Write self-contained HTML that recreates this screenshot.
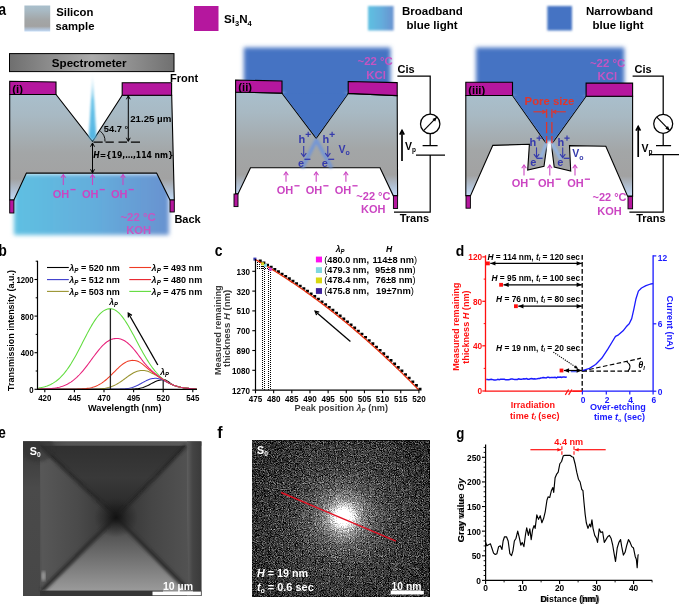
<!DOCTYPE html>
<html><head><meta charset="utf-8"><title>Figure</title>
<style>
html,body{margin:0;padding:0;background:#fff;}
svg{display:block;font-family:'Liberation Sans', sans-serif;}
</style></head><body>
<svg width="685" height="605" viewBox="0 0 685 605">
<rect width="685" height="605" fill="#fff"/>
<!-- panel_a -->
<defs>
<linearGradient id="si" x1="0" y1="0" x2="0" y2="1">
<stop offset="0" stop-color="#a9bfcc"/><stop offset="0.2" stop-color="#a8b9c3"/><stop offset="0.55" stop-color="#a3a6a7"/><stop offset="0.8" stop-color="#a2a2a2"/><stop offset="0.93" stop-color="#b4c6dc"/><stop offset="1" stop-color="#c4dcf6"/>
</linearGradient>
<linearGradient id="spec" x1="0" y1="0" x2="1" y2="0">
<stop offset="0" stop-color="#6f6f6f"/><stop offset="0.5" stop-color="#ababab"/><stop offset="1" stop-color="#707070"/>
</linearGradient>
<linearGradient id="bb" x1="0" y1="0" x2="1" y2="0">
<stop offset="0" stop-color="#5fc0e2"/><stop offset="0.5" stop-color="#64aedc"/><stop offset="1" stop-color="#6892d0"/>
</linearGradient>
<linearGradient id="beam" x1="0" y1="0" x2="0" y2="1">
<stop offset="0" stop-color="#aadcf2" stop-opacity="0.2"/><stop offset="0.4" stop-color="#6cc4e8"/><stop offset="1" stop-color="#52b4e2"/>
</linearGradient>
<filter id="bl1" x="-20%" y="-20%" width="140%" height="140%"><feGaussianBlur stdDeviation="1.2"/></filter><filter id="bl4" x="-20%" y="-20%" width="140%" height="140%"><feGaussianBlur stdDeviation="1.9"/></filter>
<filter id="bl2" x="-20%" y="-20%" width="140%" height="140%"><feGaussianBlur stdDeviation="0.8"/></filter>
<filter id="bl3" x="-50%" y="-50%" width="200%" height="200%"><feGaussianBlur stdDeviation="1.6"/></filter>
</defs>
<rect x="24.4" y="5.5" width="25.8" height="26" fill="url(#si)"/>
<text x="56.3" y="15.6" font-size="11.3" text-anchor="start" fill="#000" font-weight="bold" font-style="normal" >Silicon</text>
<text x="55.5" y="29.6" font-size="11.3" text-anchor="start" fill="#000" font-weight="bold" font-style="normal" >sample</text>
<rect x="194" y="6" width="24.5" height="25" fill="#b5179e"/>
<text x="224" y="23.2" font-size="11.6" text-anchor="start" fill="#000" font-weight="bold" font-style="normal" >Si<tspan font-size="7.5" dy="2.5">3</tspan><tspan dy="-2.5" font-size="1">&#8203;</tspan>N<tspan font-size="7.5" dy="2.5">4</tspan><tspan dy="-2.5" font-size="1">&#8203;</tspan></text>
<rect x="368" y="6" width="25.6" height="24.5" fill="url(#bb)" filter="url(#bl2)"/>
<text x="432.4" y="15" font-size="11.5" text-anchor="middle" fill="#000" font-weight="bold" font-style="normal" >Broadband</text>
<text x="432" y="28.8" font-size="11.5" text-anchor="middle" fill="#000" font-weight="bold" font-style="normal" >blue light</text>
<rect x="547.3" y="6" width="24.7" height="24.5" fill="#4573c3" filter="url(#bl2)"/>
<text x="619.5" y="14.8" font-size="11.5" text-anchor="middle" fill="#000" font-weight="bold" font-style="normal" >Narrowband</text>
<text x="618" y="29.4" font-size="11.5" text-anchor="middle" fill="#000" font-weight="bold" font-style="normal" >blue light</text>
<text transform="translate(-1.60 15.00) scale(0.850 1)" font-size="16" text-anchor="start" fill="#000" font-weight="bold" font-style="normal" >a</text>
<path d="M14,174 L169,174 L169,235 L14,235 Z" fill="url(#bb)" filter="url(#bl4)"/>
<path d="M9.7,94.5 L56,94.5 L92.5,141.3 L122.2,95.3 L171.7,95.3 L174.3,200 L170,200 L156.6,173.1 L26.4,173.1 L13.9,200 L9.7,200 Z" fill="url(#si)" stroke="#000" stroke-width="1.1" stroke-linejoin="miter"/>
<path d="M92.6,73 L96.4,137 L92.5,141.3 L88.8,137 Z" fill="url(#beam)" filter="url(#bl2)"/>
<path d="M9.7,81.3 L56,82 L56,94.5 L9.7,94.5 Z" fill="#b5179e" stroke="#000" stroke-width="1.1"/>
<path d="M122.2,82.8 L171.6,82.8 L171.6,95.3 L122.2,95.3 Z" fill="#b5179e" stroke="#000" stroke-width="1.1"/>
<rect x="9.7" y="200" width="4.2" height="13" fill="#b5179e" stroke="#000" stroke-width="0.9"/>
<rect x="170" y="200" width="4.3" height="12" fill="#b5179e" stroke="#000" stroke-width="0.9"/>
<text x="12.3" y="92.8" font-size="11.3" text-anchor="start" fill="#000" font-weight="bold" font-style="normal" >(i)</text>
<rect x="9.5" y="53.6" width="164.5" height="18" fill="url(#spec)" stroke="#000" stroke-width="1"/>
<text x="89.2" y="66.6" font-size="11.6" text-anchor="middle" fill="#000" font-weight="bold" font-style="normal" >Spectrometer</text>
<text x="170" y="82" font-size="11" text-anchor="start" fill="#000" font-weight="bold" font-style="normal" >Front</text>
<text x="174.4" y="222.8" font-size="11" text-anchor="start" fill="#000" font-weight="bold" font-style="normal" >Back</text>
<line x1="128.3" y1="141.3" x2="128.3" y2="95.8" stroke="#000" stroke-width="1" /><polyline points="130.22,99.31 128.30,95.80 126.38,99.31" fill="none" stroke="#000" stroke-width="1"/><polyline points="126.38,137.79 128.30,141.30 130.22,137.79" fill="none" stroke="#000" stroke-width="1"/>
<text x="130.2" y="121.8" font-size="9.7" text-anchor="start" fill="#000" font-weight="bold" font-style="normal" >21.25 µm</text>
<text x="103.8" y="132" font-size="9.3" text-anchor="start" fill="#000" font-weight="bold" font-style="normal" >54.7 °</text>
<path d="M93.5,142.1 L102.7,142.1 M105.5,142.1 L113.8,142.1 M118.5,142.1 L127,142.1 M130.9,142.1 L140,142.1" stroke="#000" stroke-width="1.3" fill="none"/>
<path d="M100.3,131.2 A12.5,12.5 0 0 1 105,141.5" stroke="#000" stroke-width="0.9" fill="none"/>
<line x1="92.5" y1="143" x2="92.5" y2="172.9" stroke="#000" stroke-width="1" /><polyline points="90.49,169.21 92.50,172.90 94.51,169.21" fill="none" stroke="#000" stroke-width="1"/><polyline points="94.51,146.69 92.50,143.00 90.49,146.69" fill="none" stroke="#000" stroke-width="1"/>
<text x="93.2" y="158.3" font-size="8.6" text-anchor="start" fill="#000" font-weight="bold" font-style="normal" font-family="DejaVu Sans, sans-serif" textLength="80.4" lengthAdjust="spacingAndGlyphs"><tspan font-style="italic">H</tspan>={19,…,114 nm}</text>
<line x1="63.3" y1="185" x2="63.3" y2="174.6" stroke="#cb45c2" stroke-width="1.1" /><polyline points="61.0,177.79999999999998 63.3,174.6 65.6,177.79999999999998" fill="none" stroke="#cb45c2" stroke-width="1.1"/>
<line x1="92.5" y1="185" x2="92.5" y2="174.6" stroke="#cb45c2" stroke-width="1.1" /><polyline points="90.2,177.79999999999998 92.5,174.6 94.8,177.79999999999998" fill="none" stroke="#cb45c2" stroke-width="1.1"/>
<line x1="123" y1="185" x2="123" y2="174.6" stroke="#cb45c2" stroke-width="1.1" /><polyline points="120.7,177.79999999999998 123,174.6 125.3,177.79999999999998" fill="none" stroke="#cb45c2" stroke-width="1.1"/>
<text x="52.8" y="197.8" font-size="11" text-anchor="start" fill="#cb45c2" font-weight="bold" font-style="normal" >OH</text><path d="M70.4,189.60000000000002 h5.2" stroke="#cb45c2" stroke-width="1.4" fill="none"/>
<text x="82" y="197.8" font-size="11" text-anchor="start" fill="#cb45c2" font-weight="bold" font-style="normal" >OH</text><path d="M99.6,189.60000000000002 h5.2" stroke="#cb45c2" stroke-width="1.4" fill="none"/>
<text x="111" y="197.8" font-size="11" text-anchor="start" fill="#cb45c2" font-weight="bold" font-style="normal" >OH</text><path d="M128.6,189.60000000000002 h5.2" stroke="#cb45c2" stroke-width="1.4" fill="none"/>
<text x="138.1" y="220.7" font-size="11.4" text-anchor="middle" fill="#c656c1" font-weight="bold" font-style="normal" >~22 °C</text>
<text x="138.6" y="234.3" font-size="11.2" text-anchor="middle" fill="#c656c1" font-weight="bold" font-style="normal" >KOH</text>
<path d="M243.8,47.5 L390.6,47.5 L390.6,95 L348,93.5 L316.2,138 L282,93 L243.8,93 Z" fill="#4573c3" filter="url(#bl4)"/>
<path d="M235.6,92 L282,93.1 L316.2,138.3 L348.2,93.4 L397.2,95.6 L397.6,195.6 L393.2,195.6 L380,167.7 L250.5,167.7 L238.1,193.8 L235.6,193.8 Z" fill="url(#si)" stroke="#000" stroke-width="1.1"/>
<path d="M282.5,93.3 L316.2,137.6 L347.9,93.6 Z" fill="#4573c3"/>
<path d="M316.3,140 L303,166.5 M316.3,140 L330.8,166.5" stroke="#6f94da" stroke-width="3.8" fill="none" filter="url(#bl1)" stroke-linecap="round" opacity="0.85"/>
<path d="M235.6,80 L282,81 L282,93.1 L235.6,92 Z" fill="#b5179e" stroke="#000" stroke-width="1.1"/>
<path d="M348.2,81.5 L397.2,82.6 L397.2,95.6 L348.2,93.4 Z" fill="#b5179e" stroke="#000" stroke-width="1.1"/>
<rect x="234" y="194" width="4" height="12.6" fill="#b5179e" stroke="#000" stroke-width="0.9"/>
<rect x="393.4" y="195.8" width="4.2" height="12.7" fill="#b5179e" stroke="#000" stroke-width="0.9"/>
<text x="238.3" y="91.2" font-size="11.3" text-anchor="start" fill="#000" font-weight="bold" font-style="normal" >(ii)</text>
<text x="298.6" y="142.6" font-size="11" text-anchor="start" fill="#353aac" font-weight="bold" font-style="normal" >h</text><path d="M305.6,134.4 h5.2 M308.20000000000005,131.79999999999998 v5.2" stroke="#353aac" stroke-width="1.2" fill="none"/><line x1="303.7" y1="145.9" x2="303.7" y2="156.5" stroke="#353aac" stroke-width="1.1" /><polyline points="301.09999999999997,153.1 303.7,156.5 306.3,153.1" fill="none" stroke="#353aac" stroke-width="1.1"/><text x="298" y="167.3" font-size="11" text-anchor="start" fill="#353aac" font-weight="bold" font-style="normal" >e</text><path d="M304.4,159.3 h6" stroke="#353aac" stroke-width="1.3" fill="none"/>
<text x="322.5" y="142.6" font-size="11" text-anchor="start" fill="#353aac" font-weight="bold" font-style="normal" >h</text><path d="M329.5,134.4 h5.2 M332.1,131.79999999999998 v5.2" stroke="#353aac" stroke-width="1.2" fill="none"/><line x1="327.8" y1="145.9" x2="327.8" y2="156.5" stroke="#353aac" stroke-width="1.1" /><polyline points="325.2,153.1 327.8,156.5 330.40000000000003,153.1" fill="none" stroke="#353aac" stroke-width="1.1"/><text x="321.8" y="167.3" font-size="11" text-anchor="start" fill="#353aac" font-weight="bold" font-style="normal" >e</text><path d="M328.2,159.3 h6" stroke="#353aac" stroke-width="1.3" fill="none"/>
<text x="338.6" y="152.5" font-size="10.5" text-anchor="start" fill="#353aac" font-weight="bold" font-style="normal" >V<tspan font-size="7" dy="2.5">o</tspan><tspan dy="-2.5" font-size="1">&#8203;</tspan></text>
<line x1="286" y1="181.7" x2="286" y2="172" stroke="#cb45c2" stroke-width="1.1" /><polyline points="283.7,175.2 286,172 288.3,175.2" fill="none" stroke="#cb45c2" stroke-width="1.1"/>
<line x1="316.2" y1="181.7" x2="316.2" y2="172" stroke="#cb45c2" stroke-width="1.1" /><polyline points="313.9,175.2 316.2,172 318.5,175.2" fill="none" stroke="#cb45c2" stroke-width="1.1"/>
<line x1="345.9" y1="181.7" x2="345.9" y2="172" stroke="#cb45c2" stroke-width="1.1" /><polyline points="343.59999999999997,175.2 345.9,172 348.2,175.2" fill="none" stroke="#cb45c2" stroke-width="1.1"/>
<text x="276.8" y="194" font-size="11" text-anchor="start" fill="#cb45c2" font-weight="bold" font-style="normal" >OH</text><path d="M294.40000000000003,185.8 h5.2" stroke="#cb45c2" stroke-width="1.4" fill="none"/>
<text x="305.7" y="194" font-size="11" text-anchor="start" fill="#cb45c2" font-weight="bold" font-style="normal" >OH</text><path d="M323.3,185.8 h5.2" stroke="#cb45c2" stroke-width="1.4" fill="none"/>
<text x="334.8" y="194" font-size="11" text-anchor="start" fill="#cb45c2" font-weight="bold" font-style="normal" >OH</text><path d="M352.40000000000003,185.8 h5.2" stroke="#cb45c2" stroke-width="1.4" fill="none"/>
<text x="373.4" y="200" font-size="11" text-anchor="middle" fill="#cb45c2" font-weight="bold" font-style="normal" >~22 °C</text>
<text x="373.2" y="213.2" font-size="11" text-anchor="middle" fill="#cb45c2" font-weight="bold" font-style="normal" >KOH</text>
<text x="375.2" y="64.5" font-size="11.4" text-anchor="middle" fill="#c455c2" font-weight="bold" font-style="normal" >~22 °C</text>
<text x="376.1" y="78.5" font-size="11.4" text-anchor="middle" fill="#c455c2" font-weight="bold" font-style="normal" >KCl</text>
<text x="397.6" y="72.7" font-size="11" text-anchor="start" fill="#000" font-weight="bold" font-style="normal" >Cis</text>
<path d="M397.4,76 L430.2,76 L430.2,114.2 M430.2,133.6 L430.2,145.6 M422.6,145.6 L437.6,145.6 M416,155 L445,155 M430.2,155 L430.2,212 L394,212" stroke="#000" stroke-width="1.25" fill="none"/>
<circle cx="430.2" cy="123.9" r="9.7" fill="#fff" stroke="#000" stroke-width="1.25"/>
<line x1="423.6" y1="130.6" x2="436.8" y2="117.2" stroke="#000" stroke-width="1.2" /><polygon points="436.80,117.20 435.19,121.51 432.52,118.88" fill="#000"/>
<line x1="402" y1="161" x2="402" y2="130.5" stroke="#000" stroke-width="1.7" /><polyline points="404.21,134.54 402.00,130.50 399.79,134.54" fill="none" stroke="#000" stroke-width="1.7"/>
<text x="405" y="150" font-size="10.5" text-anchor="start" fill="#000" font-weight="bold" font-style="normal" >V<tspan font-size="6.5" dy="2">p</tspan><tspan dy="-2" font-size="1">&#8203;</tspan></text>
<text x="399.7" y="221.7" font-size="11" text-anchor="start" fill="#000" font-weight="bold" font-style="normal" >Trans</text>
<path d="M476,47.6 L624.3,47.6 L624.3,97 L586,97 L551,140 L547.5,140 L512.5,96 L476,96 Z" fill="#4573c3" filter="url(#bl4)"/>
<path d="M465.8,95.5 L512.5,95.5 L547,144.4 L544,166.4 L527.7,170.1 L529.4,144.2 L492.8,145.4 L470.5,195.6 L465.8,195.6 Z" fill="url(#si)" stroke="#000" stroke-width="1.1"/>
<path d="M632.6,96.3 L586.1,96.3 L551.4,144.4 L554.2,167 L570.7,171 L569.5,145.6 L605.8,146.2 L627.6,196.1 L632.6,196.1 Z" fill="url(#si)" stroke="#000" stroke-width="1.1"/>
<path d="M513,95.8 L547.4,144 L551,144 L585.7,96.3 Z" fill="#4573c3"/>
<path d="M546.5,143 L540.7,158 M552,143 L560.5,158.5" stroke="#8fb4e8" stroke-width="3" fill="none" filter="url(#bl1)" stroke-linecap="round"/><path d="M547.6,141 L551,141 L551.6,149 L547,149 Z" fill="#fff" filter="url(#bl1)"/>
<path d="M465.8,82.3 L512.5,82.3 L512.5,95.5 L465.8,95.5 Z" fill="#b5179e" stroke="#000" stroke-width="1.1"/>
<path d="M586.1,83.1 L632.6,83.1 L632.6,96.3 L586.1,96.3 Z" fill="#b5179e" stroke="#000" stroke-width="1.1"/>
<rect x="466" y="195.8" width="4.4" height="12.4" fill="#b5179e" stroke="#000" stroke-width="0.9"/>
<rect x="628" y="196.6" width="4.6" height="12.2" fill="#b5179e" stroke="#000" stroke-width="0.9"/>
<text x="468.3" y="93.7" font-size="11.3" text-anchor="start" fill="#000" font-weight="bold" font-style="normal" >(iii)</text>
<text x="549.5" y="104.9" font-size="11" text-anchor="middle" fill="#e0352b" font-weight="bold" font-style="normal" textLength="49.8" lengthAdjust="spacingAndGlyphs">Pore size</text>
<path d="M546.6,109.3 V117.7 M546.6,122 V133.3 M546.6,136 V143.2 M551.9,109.3 V117.7 M551.9,122 V133.3 M551.9,136 V143.2" stroke="#e0352b" stroke-width="1.3" fill="none"/>
<line x1="533.4" y1="111.8" x2="545.3" y2="111.8" stroke="#e0352b" stroke-width="1.1" /><polyline points="542.32,113.43 545.30,111.80 542.32,110.17" fill="none" stroke="#e0352b" stroke-width="1.1"/>
<line x1="565.8" y1="111.8" x2="553.2" y2="111.8" stroke="#e0352b" stroke-width="1.1" /><polyline points="556.18,110.17 553.20,111.80 556.18,113.43" fill="none" stroke="#e0352b" stroke-width="1.1"/>
<text x="529.6" y="146.4" font-size="11" text-anchor="start" fill="#353aac" font-weight="bold" font-style="normal" >h</text><path d="M536.6,138.20000000000002 h5.2 M539.2,135.6 v5.2" stroke="#353aac" stroke-width="1.2" fill="none"/><line x1="536.5" y1="147.4" x2="536.5" y2="157.6" stroke="#353aac" stroke-width="1.1" /><polyline points="533.9,154.2 536.5,157.6 539.1,154.2" fill="none" stroke="#353aac" stroke-width="1.1"/><text x="530.2" y="166.3" font-size="11" text-anchor="start" fill="#353aac" font-weight="bold" font-style="normal" >e</text><path d="M536.6,158.3 h6" stroke="#353aac" stroke-width="1.3" fill="none"/>
<text x="557.4" y="146.4" font-size="11" text-anchor="start" fill="#353aac" font-weight="bold" font-style="normal" >h</text><path d="M564.4,138.20000000000002 h5.2 M567.0,135.6 v5.2" stroke="#353aac" stroke-width="1.2" fill="none"/><line x1="562.7" y1="147.4" x2="562.7" y2="157.6" stroke="#353aac" stroke-width="1.1" /><polyline points="560.1,154.2 562.7,157.6 565.3000000000001,154.2" fill="none" stroke="#353aac" stroke-width="1.1"/><text x="557.3" y="166.3" font-size="11" text-anchor="start" fill="#353aac" font-weight="bold" font-style="normal" >e</text><path d="M563.6999999999999,158.3 h6" stroke="#353aac" stroke-width="1.3" fill="none"/>
<text x="572.3" y="157.4" font-size="10.5" text-anchor="start" fill="#353aac" font-weight="bold" font-style="normal" >V<tspan font-size="7" dy="2.5">o</tspan><tspan dy="-2.5" font-size="1">&#8203;</tspan></text>
<line x1="524" y1="175.5" x2="524" y2="165" stroke="#cb45c2" stroke-width="1.1" /><polyline points="521.7,168.2 524,165 526.3,168.2" fill="none" stroke="#cb45c2" stroke-width="1.1"/>
<line x1="549.8" y1="175.5" x2="549.8" y2="165" stroke="#cb45c2" stroke-width="1.1" /><polyline points="547.5,168.2 549.8,165 552.0999999999999,168.2" fill="none" stroke="#cb45c2" stroke-width="1.1"/>
<line x1="575" y1="175.5" x2="575" y2="165" stroke="#cb45c2" stroke-width="1.1" /><polyline points="572.7,168.2 575,165 577.3,168.2" fill="none" stroke="#cb45c2" stroke-width="1.1"/>
<text x="511.8" y="187.4" font-size="11" text-anchor="start" fill="#cb45c2" font-weight="bold" font-style="normal" >OH</text><path d="M529.4,179.20000000000002 h5.2" stroke="#cb45c2" stroke-width="1.4" fill="none"/>
<text x="538" y="187.4" font-size="11" text-anchor="start" fill="#cb45c2" font-weight="bold" font-style="normal" >OH</text><path d="M555.6,179.20000000000002 h5.2" stroke="#cb45c2" stroke-width="1.4" fill="none"/>
<text x="567.2" y="187.4" font-size="11" text-anchor="start" fill="#cb45c2" font-weight="bold" font-style="normal" >OH</text><path d="M584.8000000000001,179.20000000000002 h5.2" stroke="#cb45c2" stroke-width="1.4" fill="none"/>
<text x="609.5" y="201.4" font-size="11" text-anchor="middle" fill="#cb45c2" font-weight="bold" font-style="normal" >~22 °C</text>
<text x="609.5" y="215" font-size="11" text-anchor="middle" fill="#cb45c2" font-weight="bold" font-style="normal" >KOH</text>
<text x="607.6" y="66.6" font-size="11.4" text-anchor="middle" fill="#c455c2" font-weight="bold" font-style="normal" >~22 °C</text>
<text x="607.3" y="79.5" font-size="11.4" text-anchor="middle" fill="#c455c2" font-weight="bold" font-style="normal" >KCl</text>
<text x="634.6" y="72.6" font-size="11" text-anchor="start" fill="#000" font-weight="bold" font-style="normal" >Cis</text>
<path d="M632.6,76.2 L663.2,76.2 L663.2,114.3 M663.2,133.3 L663.2,145.6 M656,145.6 L671.1,145.6 M649.3,154.7 L679,154.7 M663.2,154.7 L663.2,212.2 L629.4,212.2" stroke="#000" stroke-width="1.25" fill="none"/>
<circle cx="663.2" cy="123.8" r="9.5" fill="#fff" stroke="#000" stroke-width="1.25"/>
<line x1="656.8" y1="117.2" x2="669.6" y2="130.4" stroke="#000" stroke-width="1.2" /><polygon points="669.60,130.40 665.33,128.69 668.02,126.08" fill="#000"/>
<line x1="638.2" y1="157" x2="638.2" y2="126.5" stroke="#000" stroke-width="1.7" /><polyline points="640.41,130.54 638.20,126.50 635.99,130.54" fill="none" stroke="#000" stroke-width="1.7"/>
<text x="641.4" y="152" font-size="10.5" text-anchor="start" fill="#000" font-weight="bold" font-style="normal" >V<tspan font-size="6.5" dy="2">p</tspan><tspan dy="-2" font-size="1">&#8203;</tspan></text>
<text x="636.2" y="222" font-size="11" text-anchor="start" fill="#000" font-weight="bold" font-style="normal" >Trans</text>
<!-- panel_b -->
<text transform="translate(-1.60 256.00) scale(0.850 1)" font-size="16" text-anchor="start" fill="#000" font-weight="bold" font-style="normal" >b</text>
<polyline points="37.70,389.30 38.88,389.30 40.06,389.30 41.25,389.30 42.43,389.30 43.62,389.30 44.80,389.30 45.98,389.30 47.17,389.30 48.35,389.30 49.54,389.30 50.72,389.30 51.90,389.30 53.09,389.30 54.27,389.30 55.46,389.30 56.64,389.30 57.82,389.30 59.01,389.30 60.19,389.30 61.38,389.30 62.56,389.30 63.74,389.30 64.93,389.30 66.11,389.30 67.30,389.30 68.48,389.30 69.66,389.30 70.85,389.30 72.03,389.30 73.22,389.30 74.40,389.30 75.58,389.30 76.77,389.30 77.95,389.30 79.14,389.30 80.32,389.30 81.50,389.30 82.69,389.30 83.87,389.30 85.06,389.30 86.24,389.30 87.42,389.30 88.61,389.30 89.79,389.30 90.98,389.30 92.16,389.30 93.34,389.30 94.53,389.30 95.71,389.30 96.90,389.30 98.08,389.30 99.26,389.30 100.45,389.30 101.63,389.30 102.82,389.30 104.00,389.30 105.18,389.30 106.37,389.30 107.55,389.30 108.74,389.30 109.92,389.30 111.10,389.30 112.29,389.30 113.47,389.30 114.66,389.30 115.84,389.30 117.02,389.30 118.21,389.30 119.39,389.30 120.58,389.30 121.76,389.30 122.94,389.29 124.13,389.29 125.31,389.28 126.50,389.28 127.68,389.26 128.86,389.24 130.05,389.22 131.23,389.19 132.42,389.14 133.60,389.07 134.78,388.99 135.97,388.88 137.15,388.75 138.34,388.57 139.52,388.36 140.70,388.11 141.89,387.80 143.07,387.44 144.26,387.03 145.44,386.57 146.62,386.06 147.81,385.50 148.99,384.91 150.18,384.29 151.36,383.65 152.54,383.02 153.73,382.41 154.91,381.83 156.10,381.30 157.28,380.84 158.46,380.45 159.65,380.15 160.83,379.94 162.02,379.82 163.20,379.78 164.38,379.84 165.57,380.09 166.75,380.61 167.94,381.35 169.12,382.24 170.30,383.16 171.49,384.02 172.67,384.73 173.86,385.27 175.04,385.70 176.22,386.09 177.41,386.45 178.59,386.77 179.78,387.06 180.96,387.32 182.14,387.55 183.33,387.76 184.51,387.95 185.70,388.11 186.88,388.26 188.06,388.39 189.25,388.51 190.43,388.61 191.62,388.70 192.80,388.78 193.98,388.85 195.17,388.92 196.35,388.97" fill="none" stroke="#000000" stroke-width="1.05"/>
<polyline points="37.70,389.30 38.88,389.30 40.06,389.30 41.25,389.30 42.43,389.30 43.62,389.30 44.80,389.30 45.98,389.30 47.17,389.30 48.35,389.30 49.54,389.30 50.72,389.30 51.90,389.30 53.09,389.30 54.27,389.30 55.46,389.30 56.64,389.30 57.82,389.30 59.01,389.30 60.19,389.30 61.38,389.30 62.56,389.30 63.74,389.30 64.93,389.30 66.11,389.30 67.30,389.30 68.48,389.30 69.66,389.30 70.85,389.30 72.03,389.30 73.22,389.30 74.40,389.30 75.58,389.30 76.77,389.30 77.95,389.30 79.14,389.30 80.32,389.30 81.50,389.30 82.69,389.30 83.87,389.30 85.06,389.30 86.24,389.30 87.42,389.30 88.61,389.30 89.79,389.30 90.98,389.30 92.16,389.30 93.34,389.30 94.53,389.30 95.71,389.30 96.90,389.30 98.08,389.30 99.26,389.30 100.45,389.30 101.63,389.30 102.82,389.30 104.00,389.30 105.18,389.30 106.37,389.30 107.55,389.30 108.74,389.30 109.92,389.29 111.10,389.29 112.29,389.29 113.47,389.28 114.66,389.27 115.84,389.26 117.02,389.24 118.21,389.22 119.39,389.19 120.58,389.14 121.76,389.09 122.94,389.02 124.13,388.92 125.31,388.81 126.50,388.67 127.68,388.49 128.86,388.28 130.05,388.03 131.23,387.73 132.42,387.38 133.60,386.99 134.78,386.55 135.97,386.06 137.15,385.52 138.34,384.94 139.52,384.33 140.70,383.69 141.89,383.03 143.07,382.38 144.26,381.73 145.44,381.11 146.62,380.52 147.81,379.99 148.99,379.51 150.18,379.11 151.36,378.79 152.54,378.55 153.73,378.40 154.91,378.33 156.10,378.33 157.28,378.43 158.46,378.64 159.65,378.91 160.83,379.25 162.02,379.68 163.20,380.22 164.38,380.83 165.57,381.48 166.75,382.12 167.94,382.73 169.12,383.29 170.30,383.82 171.49,384.31 172.67,384.80 173.86,385.27 175.04,385.70 176.22,386.09 177.41,386.45 178.59,386.77 179.78,387.06 180.96,387.32 182.14,387.55 183.33,387.76 184.51,387.95 185.70,388.11 186.88,388.26 188.06,388.39 189.25,388.51 190.43,388.61 191.62,388.70 192.80,388.78 193.98,388.85 195.17,388.92 196.35,388.97" fill="none" stroke="#3a3acc" stroke-width="1.05"/>
<polyline points="37.70,389.30 38.88,389.30 40.06,389.30 41.25,389.30 42.43,389.30 43.62,389.30 44.80,389.30 45.98,389.30 47.17,389.30 48.35,389.30 49.54,389.30 50.72,389.30 51.90,389.30 53.09,389.30 54.27,389.30 55.46,389.30 56.64,389.30 57.82,389.30 59.01,389.30 60.19,389.30 61.38,389.30 62.56,389.30 63.74,389.30 64.93,389.30 66.11,389.30 67.30,389.30 68.48,389.30 69.66,389.30 70.85,389.30 72.03,389.30 73.22,389.30 74.40,389.30 75.58,389.30 76.77,389.30 77.95,389.30 79.14,389.30 80.32,389.30 81.50,389.30 82.69,389.29 83.87,389.29 85.06,389.29 86.24,389.28 87.42,389.28 88.61,389.27 89.79,389.26 90.98,389.24 92.16,389.22 93.34,389.20 94.53,389.16 95.71,389.12 96.90,389.07 98.08,389.01 99.26,388.94 100.45,388.84 101.63,388.73 102.82,388.59 104.00,388.43 105.18,388.24 106.37,388.02 107.55,387.75 108.74,387.45 109.92,387.11 111.10,386.72 112.29,386.28 113.47,385.79 114.66,385.25 115.84,384.65 117.02,384.01 118.21,383.31 119.39,382.58 120.58,381.80 121.76,380.98 122.94,380.14 124.13,379.27 125.31,378.39 126.50,377.52 127.68,376.65 128.86,375.80 130.05,374.98 131.23,374.21 132.42,373.48 133.60,372.82 134.78,372.23 135.97,371.72 137.15,371.29 138.34,370.95 139.52,370.70 140.70,370.54 141.89,370.46 143.07,370.46 144.26,370.53 145.44,370.70 146.62,370.97 147.81,371.35 148.99,371.82 150.18,372.40 151.36,372.97 152.54,373.51 153.73,374.06 154.91,374.66 156.10,375.31 157.28,376.00 158.46,376.72 159.65,377.46 160.83,378.20 162.02,378.94 163.20,379.66 164.38,380.36 165.57,381.06 166.75,381.75 167.94,382.44 169.12,383.10 170.30,383.72 171.49,384.28 172.67,384.80 173.86,385.27 175.04,385.70 176.22,386.09 177.41,386.45 178.59,386.77 179.78,387.06 180.96,387.32 182.14,387.55 183.33,387.76 184.51,387.95 185.70,388.11 186.88,388.26 188.06,388.39 189.25,388.51 190.43,388.61 191.62,388.70 192.80,388.78 193.98,388.85 195.17,388.92 196.35,388.97" fill="none" stroke="#99932f" stroke-width="1.05"/>
<polyline points="37.70,389.30 38.88,389.30 40.06,389.30 41.25,389.30 42.43,389.30 43.62,389.30 44.80,389.30 45.98,389.30 47.17,389.30 48.35,389.30 49.54,389.30 50.72,389.30 51.90,389.30 53.09,389.30 54.27,389.30 55.46,389.30 56.64,389.30 57.82,389.30 59.01,389.30 60.19,389.30 61.38,389.30 62.56,389.30 63.74,389.29 64.93,389.29 66.11,389.29 67.30,389.28 68.48,389.28 69.66,389.27 70.85,389.26 72.03,389.25 73.22,389.24 74.40,389.22 75.58,389.20 76.77,389.17 77.95,389.13 79.14,389.09 80.32,389.04 81.50,388.97 82.69,388.89 83.87,388.79 85.06,388.68 86.24,388.54 87.42,388.37 88.61,388.18 89.79,387.95 90.98,387.69 92.16,387.39 93.34,387.04 94.53,386.65 95.71,386.20 96.90,385.70 98.08,385.15 99.26,384.53 100.45,383.85 101.63,383.11 102.82,382.30 104.00,381.43 105.18,380.50 106.37,379.52 107.55,378.48 108.74,377.39 109.92,376.27 111.10,375.11 112.29,373.92 113.47,372.72 114.66,371.52 115.84,370.33 117.02,369.16 118.21,368.01 119.39,366.92 120.58,365.88 121.76,364.90 122.94,364.00 124.13,363.19 125.31,362.48 126.50,361.86 127.68,361.35 128.86,360.95 130.05,360.66 131.23,360.48 132.42,360.39 133.60,360.40 134.78,360.50 135.97,360.71 137.15,361.06 138.34,361.53 139.52,362.13 140.70,362.85 141.89,363.69 143.07,364.63 144.26,365.66 145.44,366.70 146.62,367.68 147.81,368.64 148.99,369.58 150.18,370.52 151.36,371.44 152.54,372.35 153.73,373.24 154.91,374.10 156.10,374.94 157.28,375.75 158.46,376.53 159.65,377.29 160.83,378.03 162.02,378.77 163.20,379.50 164.38,380.23 165.57,380.97 166.75,381.71 167.94,382.44 169.12,383.10 170.30,383.72 171.49,384.28 172.67,384.80 173.86,385.27 175.04,385.70 176.22,386.09 177.41,386.45 178.59,386.77 179.78,387.06 180.96,387.32 182.14,387.55 183.33,387.76 184.51,387.95 185.70,388.11 186.88,388.26 188.06,388.39 189.25,388.51 190.43,388.61 191.62,388.70 192.80,388.78 193.98,388.85 195.17,388.92 196.35,388.97" fill="none" stroke="#ee3b24" stroke-width="1.05"/>
<polyline points="37.70,388.19 38.88,388.02 40.06,387.81 41.25,387.59 42.43,387.33 43.62,387.04 44.80,386.71 45.98,386.35 47.17,385.94 48.35,385.48 49.54,384.98 50.72,384.43 51.90,383.81 53.09,383.14 54.27,382.41 55.46,381.60 56.64,380.73 57.82,379.78 59.01,378.76 60.19,377.66 61.38,376.48 62.56,375.21 63.74,373.86 64.93,372.43 66.11,370.91 67.30,369.31 68.48,367.62 69.66,365.85 70.85,364.01 72.03,362.08 73.22,360.09 74.40,358.03 75.58,355.91 76.77,353.73 77.95,351.51 79.14,349.25 80.32,346.96 81.50,344.65 82.69,342.32 83.87,340.00 85.06,337.68 86.24,335.39 87.42,333.13 88.61,330.91 89.79,328.75 90.98,326.65 92.16,324.63 93.34,322.69 94.53,320.86 95.71,319.13 96.90,317.51 98.08,316.02 99.26,314.66 100.45,313.43 101.63,312.35 102.82,311.41 104.00,310.61 105.18,309.97 106.37,309.46 107.55,309.10 108.74,308.88 109.92,308.79 111.10,308.81 112.29,308.99 113.47,309.35 114.66,309.86 115.84,310.54 117.02,311.37 118.21,312.35 119.39,313.49 120.58,314.76 121.76,316.16 122.94,317.68 124.13,319.32 125.31,321.06 126.50,322.90 127.68,324.82 128.86,326.82 130.05,328.89 131.23,331.00 132.42,333.16 133.60,335.35 134.78,337.57 135.97,339.79 137.15,342.02 138.34,344.25 139.52,346.45 140.70,348.64 141.89,350.79 143.07,352.91 144.26,354.98 145.44,357.00 146.62,358.96 147.81,360.87 148.99,362.71 150.18,364.48 151.36,366.19 152.54,367.82 153.73,369.37 154.91,370.86 156.10,372.27 157.28,373.60 158.46,374.86 159.65,376.05 160.83,377.16 162.02,378.20 163.20,379.18 164.38,380.09 165.57,380.93 166.75,381.71 167.94,382.44 169.12,383.10 170.30,383.72 171.49,384.28 172.67,384.80 173.86,385.27 175.04,385.70 176.22,386.09 177.41,386.45 178.59,386.77 179.78,387.06 180.96,387.32 182.14,387.55 183.33,387.76 184.51,387.95 185.70,388.11 186.88,388.26 188.06,388.39 189.25,388.51 190.43,388.61 191.62,388.70 192.80,388.78 193.98,388.85 195.17,388.92 196.35,388.97" fill="none" stroke="#5fdc3c" stroke-width="1.05"/>
<polyline points="37.70,389.21 38.88,389.19 40.06,389.16 41.25,389.13 42.43,389.10 43.62,389.05 44.80,389.00 45.98,388.94 47.17,388.87 48.35,388.79 49.54,388.70 50.72,388.59 51.90,388.47 53.09,388.32 54.27,388.15 55.46,387.96 56.64,387.75 57.82,387.50 59.01,387.23 60.19,386.92 61.38,386.57 62.56,386.18 63.74,385.75 64.93,385.27 66.11,384.74 67.30,384.16 68.48,383.52 69.66,382.82 70.85,382.07 72.03,381.25 73.22,380.37 74.40,379.43 75.58,378.42 76.77,377.35 77.95,376.21 79.14,375.01 80.32,373.74 81.50,372.42 82.69,371.04 83.87,369.61 85.06,368.14 86.24,366.62 87.42,365.07 88.61,363.49 89.79,361.89 90.98,360.28 92.16,358.66 93.34,357.05 94.53,355.45 95.71,353.88 96.90,352.34 98.08,350.84 99.26,349.39 100.45,348.01 101.63,346.70 102.82,345.46 104.00,344.31 105.18,343.25 106.37,342.29 107.55,341.44 108.74,340.69 109.92,340.05 111.10,339.53 112.29,339.12 113.47,338.82 114.66,338.62 115.84,338.53 117.02,338.52 118.21,338.60 119.39,338.77 120.58,339.04 121.76,339.43 122.94,339.92 124.13,340.53 125.31,341.25 126.50,342.08 127.68,343.01 128.86,344.04 130.05,345.16 131.23,346.37 132.42,347.65 133.60,349.01 134.78,350.44 135.97,351.91 137.15,353.44 138.34,354.99 139.52,356.58 140.70,358.18 141.89,359.79 143.07,361.35 144.26,362.82 145.44,364.22 146.62,365.55 147.81,366.82 148.99,368.05 150.18,369.22 151.36,370.35 152.54,371.43 153.73,372.48 154.91,373.48 156.10,374.45 157.28,375.39 158.46,376.29 159.65,377.15 160.83,377.99 162.02,378.80 163.20,379.58 164.38,380.34 165.57,381.07 166.75,381.77 167.94,382.45 169.12,383.10 170.30,383.72 171.49,384.28 172.67,384.80 173.86,385.27 175.04,385.70 176.22,386.09 177.41,386.45 178.59,386.77 179.78,387.06 180.96,387.32 182.14,387.55 183.33,387.76 184.51,387.95 185.70,388.11 186.88,388.26 188.06,388.39 189.25,388.51 190.43,388.61 191.62,388.70 192.80,388.78 193.98,388.85 195.17,388.92 196.35,388.97" fill="none" stroke="#e8207a" stroke-width="1.05"/>
<line x1="110.39359999999998" y1="389.3" x2="110.39359999999998" y2="308.78000000000003" stroke="#222" stroke-width="1.3" />
<line x1="163.20000000000002" y1="389.3" x2="163.20000000000002" y2="380.15000000000003" stroke="#222" stroke-width="1.3" />
<path d="M37.5,260.8 V389.3 H197" stroke="#000" stroke-width="1.2" fill="none"/>
<line x1="34.5" y1="389.3" x2="37.5" y2="389.3" stroke="#000" stroke-width="1.1" />
<text transform="translate(33.70 392.70) scale(0.810 1)" font-size="9.6" text-anchor="end" fill="#000" font-weight="bold" font-style="normal" >0</text>
<line x1="34.5" y1="352.7" x2="37.5" y2="352.7" stroke="#000" stroke-width="1.1" />
<text transform="translate(33.70 356.10) scale(0.810 1)" font-size="9.6" text-anchor="end" fill="#000" font-weight="bold" font-style="normal" >400</text>
<line x1="34.5" y1="316.1" x2="37.5" y2="316.1" stroke="#000" stroke-width="1.1" />
<text transform="translate(33.70 319.50) scale(0.810 1)" font-size="9.6" text-anchor="end" fill="#000" font-weight="bold" font-style="normal" >800</text>
<line x1="34.5" y1="279.5" x2="37.5" y2="279.5" stroke="#000" stroke-width="1.1" />
<text transform="translate(33.70 282.90) scale(0.810 1)" font-size="9.6" text-anchor="end" fill="#000" font-weight="bold" font-style="normal" >1200</text>
<line x1="35.7" y1="371.0" x2="37.5" y2="371.0" stroke="#000" stroke-width="1" />
<line x1="35.7" y1="334.40000000000003" x2="37.5" y2="334.40000000000003" stroke="#000" stroke-width="1" />
<line x1="35.7" y1="297.8" x2="37.5" y2="297.8" stroke="#000" stroke-width="1" />
<line x1="35.7" y1="261.20000000000005" x2="37.5" y2="261.20000000000005" stroke="#000" stroke-width="1" />
<line x1="44.8" y1="389.3" x2="44.8" y2="392.3" stroke="#000" stroke-width="1.1" />
<text transform="translate(44.80 400.60) scale(0.850 1)" font-size="9.3" text-anchor="middle" fill="#000" font-weight="bold" font-style="normal" >420</text>
<line x1="74.4" y1="389.3" x2="74.4" y2="392.3" stroke="#000" stroke-width="1.1" />
<text transform="translate(74.40 400.60) scale(0.850 1)" font-size="9.3" text-anchor="middle" fill="#000" font-weight="bold" font-style="normal" >445</text>
<line x1="104.0" y1="389.3" x2="104.0" y2="392.3" stroke="#000" stroke-width="1.1" />
<text transform="translate(104.00 400.60) scale(0.850 1)" font-size="9.3" text-anchor="middle" fill="#000" font-weight="bold" font-style="normal" >470</text>
<line x1="133.60000000000002" y1="389.3" x2="133.60000000000002" y2="392.3" stroke="#000" stroke-width="1.1" />
<text transform="translate(133.60 400.60) scale(0.850 1)" font-size="9.3" text-anchor="middle" fill="#000" font-weight="bold" font-style="normal" >495</text>
<line x1="163.20000000000002" y1="389.3" x2="163.20000000000002" y2="392.3" stroke="#000" stroke-width="1.1" />
<text transform="translate(163.20 400.60) scale(0.850 1)" font-size="9.3" text-anchor="middle" fill="#000" font-weight="bold" font-style="normal" >520</text>
<line x1="192.8" y1="389.3" x2="192.8" y2="392.3" stroke="#000" stroke-width="1.1" />
<text transform="translate(192.80 400.60) scale(0.850 1)" font-size="9.3" text-anchor="middle" fill="#000" font-weight="bold" font-style="normal" >545</text>
<text transform="translate(14.30 330.50) rotate(-90) scale(0.934 1)" font-size="9.6" text-anchor="middle" fill="#000" font-weight="bold" font-style="normal" >Transmission intensity (a.u.)</text>
<text transform="translate(88.00 411.40) scale(0.956 1)" font-size="9.6" text-anchor="start" fill="#000" font-weight="bold" font-style="normal" >Wavelength (nm)</text>
<line x1="47" y1="267.5" x2="68.8" y2="267.5" stroke="#000000" stroke-width="1.1" />
<text transform="translate(69.30 270.80) scale(0.951 1)" font-size="9.5" text-anchor="start" fill="#000" font-weight="bold" font-style="normal" ><tspan font-style="italic">λ</tspan><tspan font-style="italic" font-size="6.5" dy="2">P</tspan><tspan dy="-2" font-size="1">&#8203;</tspan> = 520 nm</text>
<line x1="129.3" y1="267.5" x2="151.1" y2="267.5" stroke="#ee3b24" stroke-width="1.1" />
<text transform="translate(151.60 270.80) scale(0.951 1)" font-size="9.5" text-anchor="start" fill="#000" font-weight="bold" font-style="normal" ><tspan font-style="italic">λ</tspan><tspan font-style="italic" font-size="6.5" dy="2">P</tspan><tspan dy="-2" font-size="1">&#8203;</tspan> = 493 nm</text>
<line x1="47" y1="279.6" x2="68.8" y2="279.6" stroke="#3a3acc" stroke-width="1.1" />
<text transform="translate(69.30 282.90) scale(0.951 1)" font-size="9.5" text-anchor="start" fill="#000" font-weight="bold" font-style="normal" ><tspan font-style="italic">λ</tspan><tspan font-style="italic" font-size="6.5" dy="2">P</tspan><tspan dy="-2" font-size="1">&#8203;</tspan> = 512 nm</text>
<line x1="129.3" y1="279.6" x2="151.1" y2="279.6" stroke="#e8202a" stroke-width="1.1" />
<text transform="translate(151.60 282.90) scale(0.951 1)" font-size="9.5" text-anchor="start" fill="#000" font-weight="bold" font-style="normal" ><tspan font-style="italic">λ</tspan><tspan font-style="italic" font-size="6.5" dy="2">P</tspan><tspan dy="-2" font-size="1">&#8203;</tspan> = 480 nm</text>
<line x1="47" y1="291.4" x2="68.8" y2="291.4" stroke="#99932f" stroke-width="1.1" />
<text transform="translate(69.30 294.70) scale(0.951 1)" font-size="9.5" text-anchor="start" fill="#000" font-weight="bold" font-style="normal" ><tspan font-style="italic">λ</tspan><tspan font-style="italic" font-size="6.5" dy="2">P</tspan><tspan dy="-2" font-size="1">&#8203;</tspan> = 503 nm</text>
<line x1="129.3" y1="291.4" x2="151.1" y2="291.4" stroke="#5fdc3c" stroke-width="1.1" />
<text transform="translate(151.60 294.70) scale(0.951 1)" font-size="9.5" text-anchor="start" fill="#000" font-weight="bold" font-style="normal" ><tspan font-style="italic">λ</tspan><tspan font-style="italic" font-size="6.5" dy="2">P</tspan><tspan dy="-2" font-size="1">&#8203;</tspan> = 475 nm</text>
<text transform="translate(109.20 305.00) scale(0.900 1)" font-size="9.5" text-anchor="start" fill="#000" font-weight="bold" font-style="normal" ><tspan font-style="italic">λ</tspan><tspan font-style="italic" font-size="6.5" dy="2">P</tspan><tspan dy="-2" font-size="1">&#8203;</tspan></text>
<text transform="translate(160.30 374.50) scale(0.900 1)" font-size="9.5" text-anchor="start" fill="#000" font-weight="bold" font-style="normal" ><tspan font-style="italic">λ</tspan><tspan font-style="italic" font-size="6.5" dy="2">P</tspan><tspan dy="-2" font-size="1">&#8203;</tspan></text>
<line x1="157.8" y1="365" x2="128.3" y2="313.2" stroke="#000" stroke-width="1.3" /><polyline points="131.87,315.41 128.30,313.20 128.37,317.40" fill="none" stroke="#000" stroke-width="1.3"/>
<!-- panel_c -->
<text transform="translate(214.80 256.00) scale(0.870 1)" font-size="16" text-anchor="start" fill="#000" font-weight="bold" font-style="normal" >c</text>
<path d="M262.5,264 V390.1 M264.5,265 V390.1 M268.5,267 V390.1 M270.5,268 V390.1 M257,262.5 H262.5 M257,264.5 H265.5 M257,266.5 H268 M257,268.5 H270.4" stroke="#000" stroke-width="1" stroke-dasharray="1,1" fill="none" shape-rendering="crispEdges"/>
<path d="M258.73,259.38 h3 v2.6 h-3 z M262.36,261.50 h3 v2.6 h-3 z M265.99,263.66 h3 v2.6 h-3 z M269.62,265.85 h3 v2.6 h-3 z M273.26,268.08 h3 v2.6 h-3 z M276.89,270.35 h3 v2.6 h-3 z M280.52,272.65 h3 v2.6 h-3 z M284.15,274.99 h3 v2.6 h-3 z M287.78,277.37 h3 v2.6 h-3 z M291.41,279.79 h3 v2.6 h-3 z M295.04,282.24 h3 v2.6 h-3 z M298.67,284.73 h3 v2.6 h-3 z M302.30,287.26 h3 v2.6 h-3 z M305.94,289.83 h3 v2.6 h-3 z M309.57,292.43 h3 v2.6 h-3 z M313.20,295.07 h3 v2.6 h-3 z M316.83,297.75 h3 v2.6 h-3 z M320.46,300.46 h3 v2.6 h-3 z M324.09,303.21 h3 v2.6 h-3 z M327.72,306.00 h3 v2.6 h-3 z M331.35,308.83 h3 v2.6 h-3 z M334.98,311.69 h3 v2.6 h-3 z M338.62,314.59 h3 v2.6 h-3 z M342.25,317.53 h3 v2.6 h-3 z M345.88,320.50 h3 v2.6 h-3 z M349.51,323.51 h3 v2.6 h-3 z M353.14,326.56 h3 v2.6 h-3 z M356.77,329.65 h3 v2.6 h-3 z M360.40,332.77 h3 v2.6 h-3 z M364.03,335.93 h3 v2.6 h-3 z M367.66,339.13 h3 v2.6 h-3 z M371.30,342.36 h3 v2.6 h-3 z M374.93,345.63 h3 v2.6 h-3 z M378.56,348.94 h3 v2.6 h-3 z M382.19,352.29 h3 v2.6 h-3 z M385.82,355.67 h3 v2.6 h-3 z M389.45,359.09 h3 v2.6 h-3 z M393.08,362.55 h3 v2.6 h-3 z M396.71,366.05 h3 v2.6 h-3 z M400.34,369.58 h3 v2.6 h-3 z M403.98,373.15 h3 v2.6 h-3 z M407.61,376.76 h3 v2.6 h-3 z M411.24,380.40 h3 v2.6 h-3 z M414.87,384.08 h3 v2.6 h-3 z M418.50,387.80 h3 v2.6 h-3 z" fill="#000"/>
<polyline points="255.50,259.60 257.32,260.64 259.13,261.68 260.95,262.74 262.76,263.80 264.58,264.87 266.39,265.96 268.21,267.05 270.02,268.15 271.84,269.26 273.66,270.38 275.47,271.51 277.29,272.65 279.10,273.80 280.92,274.95 282.73,276.12 284.55,277.29 286.36,278.48 288.18,279.67 290.00,280.88 291.81,282.09 293.63,283.31 295.44,284.54 297.26,285.78 299.07,287.03 300.89,288.29 302.70,289.56 304.52,290.84 306.34,292.13 308.15,293.42 309.97,294.73 311.78,296.05 313.60,297.37 315.41,298.70 317.23,300.05 319.04,301.40 320.86,302.76 322.68,304.13 324.49,305.51 326.31,306.90 328.12,308.30 329.94,309.71 331.75,311.13 333.57,312.55 335.38,313.99 337.20,315.43 339.02,316.89 340.83,318.35 342.65,319.83 344.46,321.31 346.28,322.80 348.09,324.30 349.91,325.81 351.72,327.33 353.54,328.86 355.36,330.40 357.17,331.95 358.99,333.50 360.80,335.07 362.62,336.65 364.43,338.23 366.25,339.82 368.06,341.43 369.88,343.04 371.70,344.66 373.51,346.29 375.33,347.93 377.14,349.58 378.96,351.24 380.77,352.91 382.59,354.59 384.40,356.28 386.22,357.97 388.04,359.68 389.85,361.39 391.67,363.12 393.48,364.85 395.30,366.60 397.11,368.35 398.93,370.11 400.74,371.88 402.56,373.66 404.38,375.45 406.19,377.25 408.01,379.06 409.82,380.87 411.64,382.70 413.45,384.54 415.27,386.38 417.08,388.24 418.90,390.10" fill="none" stroke="#e8300f" stroke-width="1.3"/>
<rect x="268.9" y="267.7" width="3" height="3" fill="#e040e0"/>
<rect x="264.0" y="264.0" width="3" height="3" fill="#7fd8e0"/>
<rect x="261.2" y="262.3" width="3" height="3" fill="#d8d820"/>
<rect x="253.4" y="257.6" width="3" height="3" fill="#3b3bb0"/>
<path d="M255.5,259 V390.1 H419.2" stroke="#000" stroke-width="1.2" fill="none"/>
<line x1="252.3" y1="271.3" x2="255.5" y2="271.3" stroke="#000" stroke-width="1.1" />
<text transform="translate(249.90 274.70) scale(0.840 1)" font-size="9.6" text-anchor="end" fill="#000" font-weight="bold" font-style="normal" >130</text>
<line x1="252.3" y1="291.1" x2="255.5" y2="291.1" stroke="#000" stroke-width="1.1" />
<text transform="translate(249.90 294.50) scale(0.840 1)" font-size="9.6" text-anchor="end" fill="#000" font-weight="bold" font-style="normal" >320</text>
<line x1="252.3" y1="310.90000000000003" x2="255.5" y2="310.90000000000003" stroke="#000" stroke-width="1.1" />
<text transform="translate(249.90 314.30) scale(0.840 1)" font-size="9.6" text-anchor="end" fill="#000" font-weight="bold" font-style="normal" >510</text>
<line x1="252.3" y1="330.70000000000005" x2="255.5" y2="330.70000000000005" stroke="#000" stroke-width="1.1" />
<text transform="translate(249.90 334.10) scale(0.840 1)" font-size="9.6" text-anchor="end" fill="#000" font-weight="bold" font-style="normal" >700</text>
<line x1="252.3" y1="350.5" x2="255.5" y2="350.5" stroke="#000" stroke-width="1.1" />
<text transform="translate(249.90 353.90) scale(0.840 1)" font-size="9.6" text-anchor="end" fill="#000" font-weight="bold" font-style="normal" >890</text>
<line x1="252.3" y1="370.3" x2="255.5" y2="370.3" stroke="#000" stroke-width="1.1" />
<text transform="translate(249.90 373.70) scale(0.840 1)" font-size="9.6" text-anchor="end" fill="#000" font-weight="bold" font-style="normal" >1080</text>
<line x1="252.3" y1="390.1" x2="255.5" y2="390.1" stroke="#000" stroke-width="1.1" />
<text transform="translate(249.90 393.50) scale(0.840 1)" font-size="9.6" text-anchor="end" fill="#000" font-weight="bold" font-style="normal" >1270</text>
<line x1="255.5" y1="390.1" x2="255.5" y2="393.3" stroke="#000" stroke-width="1.1" />
<text transform="translate(255.50 401.50) scale(0.840 1)" font-size="9.6" text-anchor="middle" fill="#000" font-weight="bold" font-style="normal" >475</text>
<line x1="273.65555555555557" y1="390.1" x2="273.65555555555557" y2="393.3" stroke="#000" stroke-width="1.1" />
<text transform="translate(273.66 401.50) scale(0.840 1)" font-size="9.6" text-anchor="middle" fill="#000" font-weight="bold" font-style="normal" >480</text>
<line x1="291.81111111111113" y1="390.1" x2="291.81111111111113" y2="393.3" stroke="#000" stroke-width="1.1" />
<text transform="translate(291.81 401.50) scale(0.840 1)" font-size="9.6" text-anchor="middle" fill="#000" font-weight="bold" font-style="normal" >485</text>
<line x1="309.96666666666664" y1="390.1" x2="309.96666666666664" y2="393.3" stroke="#000" stroke-width="1.1" />
<text transform="translate(309.97 401.50) scale(0.840 1)" font-size="9.6" text-anchor="middle" fill="#000" font-weight="bold" font-style="normal" >490</text>
<line x1="328.1222222222222" y1="390.1" x2="328.1222222222222" y2="393.3" stroke="#000" stroke-width="1.1" />
<text transform="translate(328.12 401.50) scale(0.840 1)" font-size="9.6" text-anchor="middle" fill="#000" font-weight="bold" font-style="normal" >495</text>
<line x1="346.27777777777777" y1="390.1" x2="346.27777777777777" y2="393.3" stroke="#000" stroke-width="1.1" />
<text transform="translate(346.28 401.50) scale(0.840 1)" font-size="9.6" text-anchor="middle" fill="#000" font-weight="bold" font-style="normal" >500</text>
<line x1="364.43333333333334" y1="390.1" x2="364.43333333333334" y2="393.3" stroke="#000" stroke-width="1.1" />
<text transform="translate(364.43 401.50) scale(0.840 1)" font-size="9.6" text-anchor="middle" fill="#000" font-weight="bold" font-style="normal" >505</text>
<line x1="382.58888888888885" y1="390.1" x2="382.58888888888885" y2="393.3" stroke="#000" stroke-width="1.1" />
<text transform="translate(382.59 401.50) scale(0.840 1)" font-size="9.6" text-anchor="middle" fill="#000" font-weight="bold" font-style="normal" >510</text>
<line x1="400.7444444444444" y1="390.1" x2="400.7444444444444" y2="393.3" stroke="#000" stroke-width="1.1" />
<text transform="translate(400.74 401.50) scale(0.840 1)" font-size="9.6" text-anchor="middle" fill="#000" font-weight="bold" font-style="normal" >515</text>
<line x1="418.9" y1="390.1" x2="418.9" y2="393.3" stroke="#000" stroke-width="1.1" />
<text transform="translate(418.90 401.50) scale(0.840 1)" font-size="9.6" text-anchor="middle" fill="#000" font-weight="bold" font-style="normal" >520</text>
<text transform="translate(220.70 330.20) rotate(-90) scale(0.944 1)" font-size="9.8" text-anchor="middle" fill="#3a3a3a" font-weight="bold" font-style="normal" >Measured remaining</text>
<text transform="translate(230.30 328.35) rotate(-90) scale(0.979 1)" font-size="9.8" text-anchor="middle" fill="#3a3a3a" font-weight="bold" font-style="normal" >thickness <tspan font-style="italic">H</tspan> (nm)</text>
<text transform="translate(294.60 410.80) scale(0.932 1)" font-size="9.8" text-anchor="start" fill="#3c3c3c" font-weight="bold" font-style="normal" >Peak position <tspan font-style="italic">λ</tspan><tspan font-style="italic" font-size="6.5" dy="2">P</tspan><tspan dy="-2"> (nm)</tspan></text>
<text transform="translate(335.70 252.30) scale(0.920 1)" font-size="9.6" text-anchor="start" fill="#000" font-weight="bold" font-style="normal" ><tspan font-style="italic">λ</tspan><tspan font-style="italic" font-size="6.5" dy="2">P</tspan></text>
<text transform="translate(385.90 252.30) scale(0.900 1)" font-size="9.6" text-anchor="start" fill="#000" font-weight="bold" font-style="italic" >H</text>
<rect x="315.9" y="256.6" width="6.1" height="5.8" fill="#ff10f0"/>
<text transform="translate(324.30 263.10) scale(0.983 1)" font-size="9.3" text-anchor="start" fill="#000" font-weight="bold" font-style="normal" ><tspan font-weight="normal">(</tspan>480.0 nm,</text>
<text transform="translate(372.40 263.10) scale(0.995 1)" font-size="9.3" text-anchor="start" fill="#000" font-weight="bold" font-style="normal" >114±8 nm<tspan font-weight="normal">)</tspan></text>
<rect x="315.9" y="267.20000000000005" width="6.1" height="5.8" fill="#7fd8e0"/>
<text transform="translate(324.30 273.30) scale(0.983 1)" font-size="9.3" text-anchor="start" fill="#000" font-weight="bold" font-style="normal" ><tspan font-weight="normal">(</tspan>479.3 nm,</text>
<text transform="translate(375.10 273.30) scale(1.009 1)" font-size="9.3" text-anchor="start" fill="#000" font-weight="bold" font-style="normal" >95±8 nm<tspan font-weight="normal">)</tspan></text>
<rect x="315.9" y="277.5" width="6.1" height="5.8" fill="#d8d810"/>
<text transform="translate(324.30 283.40) scale(0.983 1)" font-size="9.3" text-anchor="start" fill="#000" font-weight="bold" font-style="normal" ><tspan font-weight="normal">(</tspan>478.4 nm,</text>
<text transform="translate(375.60 283.40) scale(0.996 1)" font-size="9.3" text-anchor="start" fill="#000" font-weight="bold" font-style="normal" >76±8 nm<tspan font-weight="normal">)</tspan></text>
<rect x="315.9" y="288.1" width="6.1" height="5.8" fill="#3f229c"/>
<text transform="translate(324.30 293.80) scale(0.983 1)" font-size="9.3" text-anchor="start" fill="#000" font-weight="bold" font-style="normal" ><tspan font-weight="normal">(</tspan>475.8 nm,</text>
<text transform="translate(376.00 293.80) scale(1.009 1)" font-size="9.3" text-anchor="start" fill="#000" font-weight="bold" font-style="normal" >19±7nm<tspan font-weight="normal">)</tspan></text>
<line x1="350.4" y1="341.4" x2="315.1" y2="311.2" stroke="#000" stroke-width="1.3" /><polyline points="319.21,312.07 315.10,311.20 316.59,315.13" fill="none" stroke="#000" stroke-width="1.3"/>
<!-- panel_d -->
<g transform="translate(0,0.6)"><text transform="translate(455.80 255.20) scale(0.930 1)" font-size="15" text-anchor="start" fill="#000" font-weight="bold" font-style="normal" >d</text>
<line x1="582.2" y1="254.5" x2="582.2" y2="390.6" stroke="#000" stroke-width="1.3" stroke-dasharray="4.6,2.4"/>
<line x1="582.4" y1="370.6" x2="641" y2="370.6" stroke="#000" stroke-width="1.2" stroke-dasharray="4.6,2.4"/>
<line x1="582.4" y1="370.4" x2="641" y2="357.6" stroke="#000" stroke-width="1.2" stroke-dasharray="4.6,2.4"/>
<path d="M626.8,361.3 Q632.6,365 628,370.6" stroke="#000" stroke-width="1.1" fill="none"/>
<text transform="translate(638.30 367.80) scale(0.950 1)" font-size="9.5" text-anchor="start" fill="#000" font-weight="bold" font-style="italic" >θ<tspan font-size="6" dy="1.5">I</tspan></text>
<polyline points="486.2,378.96 487.5,378.83 488.8,379.08 490.1,378.85 491.4,378.75 492.7,379.03 494.0,379.47 495.3,379.34 496.6,379.28 497.9,378.77 499.2,379.02 500.5,378.76 501.8,378.64 503.1,378.55 504.4,378.62 505.7,379.23 507.0,379.11 508.3,379.06 509.6,379.02 510.9,378.44 512.2,378.51 513.5,378.76 514.8,378.82 516.1,378.90 517.4,378.89 518.7,378.14 520.0,378.57 521.3,378.59 522.6,378.40 523.9,378.07 525.2,378.30 526.5,377.91 527.8,378.64 529.1,378.54 530.4,378.21 531.7,377.95 533.0,378.46 534.3,378.11 535.6,378.35 536.9,378.28 538.2,377.93 539.5,377.80 540.8,377.43 542.1,377.24 543.4,376.95 544.7,377.04 546.0,377.45 547.3,376.71 548.6,376.67 549.9,377.15 551.2,376.80 552.5,376.98 553.8,376.88 555.1,376.72 556.4,377.26 557.7,376.50 559.0,376.64 560.3,376.41 561.6,376.75 562.9,376.38 564.2,376.41 565.5,376.71 566.8,376.28" fill="none" stroke="#1a1aff" stroke-width="1.5"/>
<line x1="570.8" y1="370.9" x2="576.8" y2="370.9" stroke="#5a6aff" stroke-width="1.6" />
<polyline points="582.4,370 589.5,367.8 595.6,363.9 601.7,357.7 607.8,348.6 612.4,340.9 615.5,335.7 618.5,334.2 623.1,330.2 626.2,326.2 629.2,323.2 631.7,318 633.8,308.8 636,298.1 638.4,290.5 641.5,287.4 646,285 650.6,283.4 653.1,283.1" fill="none" stroke="#1a1aff" stroke-width="1.3" stroke-linejoin="round"/>
<line x1="490.29999999999995" y1="262.8" x2="581.8" y2="262.8" stroke="#000" stroke-width="1.2" /><polygon points="581.80,262.80 576.64,264.98 576.64,260.62" fill="#000"/><polygon points="490.30,262.80 495.46,260.62 495.46,264.98" fill="#000"/>
<rect x="486.0" y="260.90000000000003" width="3.8" height="3.8" fill="#ff1010"/>
<text transform="translate(487.40 259.20) scale(0.882 1)" font-size="9.5" text-anchor="start" fill="#000" font-weight="bold" font-style="normal" ><tspan font-style="italic">H</tspan> = 114 nm, <tspan font-style="italic">t</tspan><tspan font-style="italic" font-size="6" dy="1.5">I</tspan><tspan dy="-1.5"> = 120 sec</tspan></text>
<line x1="503.5" y1="284.2" x2="581.8" y2="284.2" stroke="#000" stroke-width="1.2" /><polygon points="581.80,284.20 576.64,286.38 576.64,282.02" fill="#000"/><polygon points="503.50,284.20 508.66,282.02 508.66,286.38" fill="#000"/>
<rect x="499.20000000000005" y="282.3" width="3.8" height="3.8" fill="#ff1010"/>
<text transform="translate(491.40 280.20) scale(0.884 1)" font-size="9.5" text-anchor="start" fill="#000" font-weight="bold" font-style="normal" ><tspan font-style="italic">H</tspan> = 95 nm, <tspan font-style="italic">t</tspan><tspan font-style="italic" font-size="6" dy="1.5">I</tspan><tspan dy="-1.5"> = 100 sec</tspan></text>
<line x1="518.3" y1="305.6" x2="581.8" y2="305.6" stroke="#000" stroke-width="1.2" /><polygon points="581.80,305.60 576.64,307.78 576.64,303.42" fill="#000"/><polygon points="518.30,305.60 523.46,303.42 523.46,307.78" fill="#000"/>
<rect x="514.0" y="303.70000000000005" width="3.8" height="3.8" fill="#ff1010"/>
<text transform="translate(496.00 301.20) scale(0.885 1)" font-size="9.5" text-anchor="start" fill="#000" font-weight="bold" font-style="normal" ><tspan font-style="italic">H</tspan> = 76 nm, <tspan font-style="italic">t</tspan><tspan font-style="italic" font-size="6" dy="1.5">I</tspan><tspan dy="-1.5"> = 80 sec</tspan></text>
<line x1="563.9" y1="369.9" x2="581.8" y2="369.9" stroke="#000" stroke-width="1.2" /><polygon points="581.80,369.90 576.64,372.08 576.64,367.72" fill="#000"/><polygon points="563.90,369.90 569.06,367.72 569.06,372.08" fill="#000"/>
<rect x="559.6" y="368.0" width="3.8" height="3.8" fill="#ff1010"/>
<text transform="translate(496.00 349.90) scale(0.885 1)" font-size="9.5" text-anchor="start" fill="#000" font-weight="bold" font-style="normal" ><tspan font-style="italic">H</tspan> = 19 nm, <tspan font-style="italic">t</tspan><tspan font-style="italic" font-size="6" dy="1.5">I</tspan><tspan dy="-1.5"> = 20 sec</tspan></text>
<line x1="553.3" y1="351.5" x2="576.5" y2="367" stroke="#000" stroke-width="1.1" stroke-dasharray="1.2,1.1"/>
<polygon points="578.20,368.20 574.09,367.32 575.83,364.74" fill="#000"/>
<path d="M485.5,254.6 V390.6 H582.4" stroke="#ff1010" stroke-width="1.3" fill="none"/>
<path d="M565.3,394.3 L568.6,388.9 M568.6,394.3 L571.9,388.9" stroke="#ff1010" stroke-width="1.2" fill="none"/>
<path d="M572.4,390.6 H582.4" stroke="#ff1010" stroke-width="1.3" fill="none"/>
<path d="M582.2,390.6 H653.1 V254.6" stroke="#1a1aff" stroke-width="1.3" fill="none"/>
<line x1="482.3" y1="256.3" x2="485.5" y2="256.3" stroke="#ff1010" stroke-width="1.2" />
<text transform="translate(482.10 259.70) scale(0.860 1)" font-size="9.6" text-anchor="end" fill="#ff1010" font-weight="bold" font-style="normal" >120</text>
<line x1="482.3" y1="300.7" x2="485.5" y2="300.7" stroke="#ff1010" stroke-width="1.2" />
<text transform="translate(482.10 304.10) scale(0.860 1)" font-size="9.6" text-anchor="end" fill="#ff1010" font-weight="bold" font-style="normal" >80</text>
<line x1="482.3" y1="345.2" x2="485.5" y2="345.2" stroke="#ff1010" stroke-width="1.2" />
<text transform="translate(482.10 348.60) scale(0.860 1)" font-size="9.6" text-anchor="end" fill="#ff1010" font-weight="bold" font-style="normal" >40</text>
<line x1="482.3" y1="390.4" x2="485.5" y2="390.4" stroke="#ff1010" stroke-width="1.2" />
<text transform="translate(482.10 393.60) scale(0.860 1)" font-size="9.6" text-anchor="end" fill="#ff1010" font-weight="bold" font-style="normal" >0</text>
<line x1="483.7" y1="278.5" x2="485.5" y2="278.5" stroke="#ff1010" stroke-width="1" />
<line x1="483.7" y1="323" x2="485.5" y2="323" stroke="#ff1010" stroke-width="1" />
<line x1="483.7" y1="367.8" x2="485.5" y2="367.8" stroke="#ff1010" stroke-width="1" />
<line x1="653.1" y1="255.3" x2="656.3000000000001" y2="255.3" stroke="#1a1aff" stroke-width="1.2" />
<text transform="translate(657.70 259.90) scale(0.880 1)" font-size="9.6" text-anchor="start" fill="#1a1aff" font-weight="bold" font-style="normal" >12</text>
<line x1="653.1" y1="323.2" x2="656.3000000000001" y2="323.2" stroke="#1a1aff" stroke-width="1.2" />
<text transform="translate(657.70 326.70) scale(0.880 1)" font-size="9.6" text-anchor="start" fill="#1a1aff" font-weight="bold" font-style="normal" >6</text>
<line x1="653.1" y1="390.6" x2="656.3000000000001" y2="390.6" stroke="#1a1aff" stroke-width="1.2" />
<text transform="translate(657.70 394.10) scale(0.880 1)" font-size="9.6" text-anchor="start" fill="#1a1aff" font-weight="bold" font-style="normal" >0</text>
<line x1="582.4" y1="390.6" x2="582.4" y2="393.8" stroke="#1a1aff" stroke-width="1.2" />
<text transform="translate(583.20 402.20) scale(0.880 1)" font-size="9.6" text-anchor="middle" fill="#1a1aff" font-weight="bold" font-style="normal" >0</text>
<line x1="606.3" y1="390.6" x2="606.3" y2="393.8" stroke="#1a1aff" stroke-width="1.2" />
<text transform="translate(607.10 402.20) scale(0.880 1)" font-size="9.6" text-anchor="middle" fill="#1a1aff" font-weight="bold" font-style="normal" >2</text>
<line x1="629.8" y1="390.6" x2="629.8" y2="393.8" stroke="#1a1aff" stroke-width="1.2" />
<text transform="translate(630.60 402.20) scale(0.880 1)" font-size="9.6" text-anchor="middle" fill="#1a1aff" font-weight="bold" font-style="normal" >4</text>
<line x1="653.1" y1="390.6" x2="653.1" y2="393.8" stroke="#1a1aff" stroke-width="1.2" />
<text transform="translate(653.90 402.20) scale(0.880 1)" font-size="9.6" text-anchor="middle" fill="#1a1aff" font-weight="bold" font-style="normal" >6</text>
<text transform="translate(459.30 326.10) rotate(-90) scale(0.925 1)" font-size="9.8" text-anchor="middle" fill="#ff1010" font-weight="bold" font-style="normal" >Measured remaining</text>
<text transform="translate(468.60 326.50) rotate(-90) scale(0.930 1)" font-size="9.8" text-anchor="middle" fill="#ff1010" font-weight="bold" font-style="normal" >thickness <tspan font-style="italic">H</tspan> (nm)</text>
<text transform="translate(666.60 322.10) rotate(90) scale(0.939 1)" font-size="9.8" text-anchor="middle" fill="#1a1aff" font-weight="bold" font-style="normal" >Current (nA)</text>
<text transform="translate(510.80 406.90) scale(0.927 1)" font-size="9.8" text-anchor="start" fill="#ff1010" font-weight="bold" font-style="normal" >Irradiation</text>
<text transform="translate(510.10 418.10) scale(0.927 1)" font-size="9.8" text-anchor="start" fill="#ff1010" font-weight="bold" font-style="normal" >time <tspan font-style="italic">t</tspan><tspan font-style="italic" font-size="6" dy="1.5">I</tspan><tspan dy="-1.5"> (sec)</tspan></text>
<text transform="translate(590.00 409.10) scale(0.927 1)" font-size="9.8" text-anchor="start" fill="#1a1aff" font-weight="bold" font-style="normal" >Over-etching</text>
<text transform="translate(594.00 419.80) scale(0.922 1)" font-size="9.8" text-anchor="start" fill="#1a1aff" font-weight="bold" font-style="normal" >time <tspan font-style="italic">t</tspan><tspan font-size="6" dy="1.5">o</tspan><tspan dy="-1.5"> (sec)</tspan></text></g>
<!-- panel_e -->
<defs>
<linearGradient id="eT" x1="0" y1="0" x2="0" y2="1"><stop offset="0" stop-color="#303030"/><stop offset="0.45" stop-color="#393939"/><stop offset="0.8" stop-color="#2c2c2c"/><stop offset="1" stop-color="#1c1c1c"/></linearGradient>
<linearGradient id="eB" x1="0" y1="0" x2="0" y2="1"><stop offset="0" stop-color="#383838"/><stop offset="0.25" stop-color="#555555"/><stop offset="0.7" stop-color="#7e7e7e"/><stop offset="1" stop-color="#9a9a9a"/></linearGradient>
<linearGradient id="eL" x1="0" y1="0" x2="1" y2="0"><stop offset="0" stop-color="#585858"/><stop offset="0.5" stop-color="#4a4a4a"/><stop offset="0.85" stop-color="#3a3a3a"/><stop offset="1" stop-color="#282828"/></linearGradient>
<linearGradient id="eR" x1="1" y1="0" x2="0" y2="0"><stop offset="0" stop-color="#525252"/><stop offset="0.5" stop-color="#464646"/><stop offset="0.85" stop-color="#383838"/><stop offset="1" stop-color="#262626"/></linearGradient>
<linearGradient id="eTop" x1="0" y1="0" x2="1" y2="0"><stop offset="0" stop-color="#3a3a3a"/><stop offset="0.25" stop-color="#545454"/><stop offset="1" stop-color="#5a5a5a"/></linearGradient><linearGradient id="eLs" x1="0" y1="0" x2="0" y2="1"><stop offset="0" stop-color="#383838"/><stop offset="0.3" stop-color="#4a4a4a"/><stop offset="1" stop-color="#474747"/></linearGradient><linearGradient id="eRs" x1="0" y1="0" x2="1" y2="0"><stop offset="0" stop-color="#5e5e5e"/><stop offset="0.4" stop-color="#444444"/><stop offset="1" stop-color="#3a3a3a"/></linearGradient><radialGradient id="eC" cx="0.5" cy="0.5" r="0.5"><stop offset="0" stop-color="#101010" stop-opacity="0.95"/><stop offset="0.35" stop-color="#181818" stop-opacity="0.6"/><stop offset="1" stop-color="#202020" stop-opacity="0"/></radialGradient>
<filter id="eBl" x="-10%" y="-10%" width="120%" height="120%"><feGaussianBlur stdDeviation="1.6"/></filter>
<clipPath id="eClip"><rect x="23" y="441.3" width="178.6" height="154.6"/></clipPath>
</defs>
<g clip-path="url(#eClip)">
<rect x="23" y="441.3" width="178.6" height="154.59999999999997" fill="#525252"/>
<rect x="23" y="441.3" width="178.6" height="4.5" fill="url(#eTop)"/>
<rect x="23" y="590.6" width="178.6" height="5.4" fill="#363636"/>
<rect x="23" y="441.3" width="17" height="154.59999999999997" fill="url(#eLs)"/>
<rect x="187" y="441.3" width="14.6" height="154.59999999999997" fill="url(#eRs)"/>
<polygon points="40,445.8 185.8,445.8 116,517.5" fill="url(#eT)"/>
<polygon points="42,590.6 188.6,590.6 116,517.5" fill="url(#eB)"/>
<polygon points="40,445.8 42,590.6 116,517.5" fill="url(#eL)"/>
<polygon points="185.8,445.8 188.6,590.6 116,517.5" fill="url(#eR)"/>
<path d="M40,445.8 L116,517.5 L185.8,445.8" stroke="#262626" stroke-width="3.5" fill="none" filter="url(#eBl)" opacity="0.9"/>
<path d="M42,590.6 L116,517.5 L188.6,590.6" stroke="#2c2c2c" stroke-width="4.5" fill="none" filter="url(#eBl)" opacity="0.9"/>
<ellipse cx="116" cy="517.5" rx="22" ry="20" fill="url(#eC)"/>
<ellipse cx="43.5" cy="576" rx="2" ry="5" fill="#a0a0a0" filter="url(#eBl)"/>
<ellipse cx="38" cy="448" rx="16" ry="14" fill="#303030" opacity="0.55" filter="url(#eBl)"/>
</g>
<rect x="152.5" y="591.6" width="48.4" height="3.7" fill="#fff"/>
<text transform="translate(163.00 590.10) scale(1.001 1)" font-size="10.5" text-anchor="start" fill="#fff" font-weight="bold" font-style="normal" >10 µm</text>
<line x1="163" y1="591.2" x2="193" y2="591.2" stroke="#fff" stroke-width="0.8" />
<text transform="translate(29.80 454.80) scale(0.950 1)" font-size="11.3" text-anchor="start" fill="#fff" font-weight="bold" font-style="normal" >S<tspan font-size="7" dy="2">0</tspan></text>
<text transform="translate(-1.70 438.00) scale(0.850 1)" font-size="16" text-anchor="start" fill="#000" font-weight="bold" font-style="normal" >e</text>
<!-- panel_f -->
<defs>
<radialGradient id="fG" gradientUnits="userSpaceOnUse" cx="343.5" cy="517" r="100">
<stop offset="0" stop-color="#ffffff"/><stop offset="0.05" stop-color="#ffffff"/><stop offset="0.1" stop-color="#b4b4b4"/><stop offset="0.18" stop-color="#727272"/><stop offset="0.3" stop-color="#4e4e4e"/><stop offset="0.5" stop-color="#3a3a3a"/><stop offset="1" stop-color="#2b2b2b"/></radialGradient>
<filter id="fN" x="0" y="0" width="100%" height="100%" color-interpolation-filters="sRGB">
<feTurbulence type="fractalNoise" baseFrequency="1.15" numOctaves="1" seed="11" result="t"/>
<feColorMatrix in="t" type="matrix" values="0.6 0.6 0 0 -0.1  0.6 0.6 0 0 -0.1  0.6 0.6 0 0 -0.1  0 0 0 0 1" result="g"/>
<feComposite in="g" in2="SourceGraphic" operator="arithmetic" k1="0" k2="1.5" k3="1.35" k4="-0.8" result="c"/><feGaussianBlur in="c" stdDeviation="0.6"/>
</filter>
</defs>
<rect x="252.1" y="440.8" width="177.4" height="155.9" fill="url(#fG)" filter="url(#fN)"/>
<line x1="281.2" y1="492.5" x2="395.9" y2="541.2" stroke="#e01224" stroke-width="1.4" />
<text transform="translate(257.00 454.40) scale(0.950 1)" font-size="11.3" text-anchor="start" fill="#fff" font-weight="bold" font-style="normal" >S<tspan font-size="7" dy="2">0</tspan></text>
<text transform="translate(257.00 577.30) scale(0.998 1)" font-size="10.8" text-anchor="start" fill="#fff" font-weight="bold" font-style="normal" ><tspan font-style="italic">H</tspan> = 19 nm</text>
<text transform="translate(257.00 591.00) scale(1.018 1)" font-size="10.8" text-anchor="start" fill="#fff" font-weight="bold" font-style="normal" ><tspan font-style="italic">t</tspan><tspan font-size="6.5" dy="2">o</tspan><tspan dy="-2"> = 0.6 sec</tspan></text>
<text transform="translate(391.60 589.60) scale(0.985 1)" font-size="10.5" text-anchor="start" fill="#fff" font-weight="bold" font-style="normal" >10 nm</text>
<line x1="391.6" y1="590.7" x2="421.5" y2="590.7" stroke="#fff" stroke-width="0.8" />
<rect x="390.7" y="591" width="33.1" height="3.5" fill="#fff"/>
<text x="217.3" y="438" font-size="16" text-anchor="start" fill="#000" font-weight="bold" font-style="normal" >f</text>
<!-- panel_g -->
<polyline points="485.68,542.42 486.80,545.80 488.49,544.67 490.46,543.83 491.86,548.04 493.55,553.10 495.24,554.51 496.92,553.66 498.61,546.64 500.30,545.80 501.98,549.45 503.11,541.02 504.51,536.80 506.48,536.80 508.16,541.02 509.85,553.66 511.54,555.63 512.94,550.85 514.35,541.02 516.03,538.21 517.72,531.18 519.41,538.21 520.81,545.23 522.22,542.42 523.90,546.64 525.59,533.99 526.71,527.81 528.40,535.40 529.81,528.93 531.21,539.61 532.62,529.78 534.02,525.56 535.15,528.37 536.83,514.88 538.52,519.38 540.21,515.72 541.89,522.75 543.58,518.53 545.26,511.51 546.95,500.26 548.07,496.89 549.76,497.45 551.45,490.43 552.85,487.62 553.70,492.39 555.10,477.78 556.51,474.41 558.19,472.16 559.88,463.73 561.57,461.48 563.25,455.86 564.94,455.30 567.75,455.30 570.00,455.30 571.96,456.70 573.37,457.26 575.06,463.73 576.74,472.16 578.43,479.18 580.12,482.00 581.80,489.58 582.93,490.43 584.05,503.07 585.17,514.32 586.30,522.75 587.98,528.37 589.67,524.15 590.80,526.96 591.92,519.94 593.04,528.37 594.73,535.40 596.42,538.21 597.54,542.42 599.23,528.93 600.91,532.59 602.60,531.74 604.29,542.42 605.97,539.61 607.66,536.80 609.35,535.40 611.03,538.21 612.72,545.23 614.12,553.66 615.53,561.53 617.21,548.04 618.90,542.42 620.59,539.61 621.71,546.64 623.40,555.07 625.08,552.26 626.77,545.23 628.46,539.61 630.14,542.42 631.83,546.64 633.52,548.04 635.20,556.48 636.33,559.29 637.17,567.72 638.01,555.07 638.58,554.51" fill="none" stroke="#000" stroke-width="1.15" stroke-linejoin="round"/>
<path d="M485.6,444.6 V580.4 H652.2" stroke="#000" stroke-width="1.2" fill="none"/>
<line x1="482.0" y1="580.4" x2="485.6" y2="580.4" stroke="#000" stroke-width="1.1" />
<text transform="translate(481.00 583.90) scale(0.860 1)" font-size="9.8" text-anchor="end" fill="#000" font-weight="bold" font-style="normal" >0</text>
<line x1="483.6" y1="575.476" x2="485.6" y2="575.476" stroke="#000" stroke-width="0.9" />
<line x1="483.6" y1="570.552" x2="485.6" y2="570.552" stroke="#000" stroke-width="0.9" />
<line x1="483.6" y1="565.6279999999999" x2="485.6" y2="565.6279999999999" stroke="#000" stroke-width="0.9" />
<line x1="483.6" y1="560.704" x2="485.6" y2="560.704" stroke="#000" stroke-width="0.9" />
<line x1="482.0" y1="555.78" x2="485.6" y2="555.78" stroke="#000" stroke-width="1.1" />
<text transform="translate(481.00 559.28) scale(0.860 1)" font-size="9.8" text-anchor="end" fill="#000" font-weight="bold" font-style="normal" >50</text>
<line x1="483.6" y1="550.856" x2="485.6" y2="550.856" stroke="#000" stroke-width="0.9" />
<line x1="483.6" y1="545.932" x2="485.6" y2="545.932" stroke="#000" stroke-width="0.9" />
<line x1="483.6" y1="541.0079999999999" x2="485.6" y2="541.0079999999999" stroke="#000" stroke-width="0.9" />
<line x1="483.6" y1="536.084" x2="485.6" y2="536.084" stroke="#000" stroke-width="0.9" />
<line x1="482.0" y1="531.16" x2="485.6" y2="531.16" stroke="#000" stroke-width="1.1" />
<text transform="translate(481.00 534.66) scale(0.860 1)" font-size="9.8" text-anchor="end" fill="#000" font-weight="bold" font-style="normal" >100</text>
<line x1="483.6" y1="526.236" x2="485.6" y2="526.236" stroke="#000" stroke-width="0.9" />
<line x1="483.6" y1="521.312" x2="485.6" y2="521.312" stroke="#000" stroke-width="0.9" />
<line x1="483.6" y1="516.3879999999999" x2="485.6" y2="516.3879999999999" stroke="#000" stroke-width="0.9" />
<line x1="483.6" y1="511.46399999999994" x2="485.6" y2="511.46399999999994" stroke="#000" stroke-width="0.9" />
<line x1="482.0" y1="506.53999999999996" x2="485.6" y2="506.53999999999996" stroke="#000" stroke-width="1.1" />
<text transform="translate(481.00 510.04) scale(0.860 1)" font-size="9.8" text-anchor="end" fill="#000" font-weight="bold" font-style="normal" >150</text>
<line x1="483.6" y1="501.616" x2="485.6" y2="501.616" stroke="#000" stroke-width="0.9" />
<line x1="483.6" y1="496.692" x2="485.6" y2="496.692" stroke="#000" stroke-width="0.9" />
<line x1="483.6" y1="491.768" x2="485.6" y2="491.768" stroke="#000" stroke-width="0.9" />
<line x1="483.6" y1="486.844" x2="485.6" y2="486.844" stroke="#000" stroke-width="0.9" />
<line x1="482.0" y1="481.91999999999996" x2="485.6" y2="481.91999999999996" stroke="#000" stroke-width="1.1" />
<text transform="translate(481.00 485.42) scale(0.860 1)" font-size="9.8" text-anchor="end" fill="#000" font-weight="bold" font-style="normal" >200</text>
<line x1="483.6" y1="476.996" x2="485.6" y2="476.996" stroke="#000" stroke-width="0.9" />
<line x1="483.6" y1="472.072" x2="485.6" y2="472.072" stroke="#000" stroke-width="0.9" />
<line x1="483.6" y1="467.14799999999997" x2="485.6" y2="467.14799999999997" stroke="#000" stroke-width="0.9" />
<line x1="483.6" y1="462.224" x2="485.6" y2="462.224" stroke="#000" stroke-width="0.9" />
<line x1="482.0" y1="457.29999999999995" x2="485.6" y2="457.29999999999995" stroke="#000" stroke-width="1.1" />
<text transform="translate(481.00 460.80) scale(0.860 1)" font-size="9.8" text-anchor="end" fill="#000" font-weight="bold" font-style="normal" >250</text>
<line x1="483.6" y1="452.376" x2="485.6" y2="452.376" stroke="#000" stroke-width="0.9" />
<line x1="483.6" y1="447.452" x2="485.6" y2="447.452" stroke="#000" stroke-width="0.9" />
<line x1="485.6" y1="580.4" x2="485.6" y2="584.0" stroke="#000" stroke-width="1.1" />
<text transform="translate(485.60 591.40) scale(0.860 1)" font-size="9.8" text-anchor="middle" fill="#000" font-weight="bold" font-style="normal" >0</text>
<line x1="504.1" y1="580.4" x2="504.1" y2="582.4" stroke="#000" stroke-width="0.9" />
<line x1="522.6" y1="580.4" x2="522.6" y2="584.0" stroke="#000" stroke-width="1.1" />
<text transform="translate(522.60 591.40) scale(0.860 1)" font-size="9.8" text-anchor="middle" fill="#000" font-weight="bold" font-style="normal" >10</text>
<line x1="541.1" y1="580.4" x2="541.1" y2="582.4" stroke="#000" stroke-width="0.9" />
<line x1="559.6" y1="580.4" x2="559.6" y2="584.0" stroke="#000" stroke-width="1.1" />
<text transform="translate(559.60 591.40) scale(0.860 1)" font-size="9.8" text-anchor="middle" fill="#000" font-weight="bold" font-style="normal" >20</text>
<line x1="578.1" y1="580.4" x2="578.1" y2="582.4" stroke="#000" stroke-width="0.9" />
<line x1="596.6" y1="580.4" x2="596.6" y2="584.0" stroke="#000" stroke-width="1.1" />
<text transform="translate(596.60 591.40) scale(0.860 1)" font-size="9.8" text-anchor="middle" fill="#000" font-weight="bold" font-style="normal" >30</text>
<line x1="615.1" y1="580.4" x2="615.1" y2="582.4" stroke="#000" stroke-width="0.9" />
<line x1="633.6" y1="580.4" x2="633.6" y2="584.0" stroke="#000" stroke-width="1.1" />
<text transform="translate(633.60 591.40) scale(0.860 1)" font-size="9.8" text-anchor="middle" fill="#000" font-weight="bold" font-style="normal" >40</text>
<line x1="652.1" y1="580.4" x2="652.1" y2="582.4" stroke="#000" stroke-width="0.9" />
<text transform="translate(554.30 444.60) scale(0.931 1)" font-size="9.8" text-anchor="start" fill="#ff1010" font-weight="bold" font-style="normal" >4.4 nm</text>
<line x1="530.4" y1="449.7" x2="561.4" y2="449.7" stroke="#ff1010" stroke-width="1.2" /><polygon points="561.40,449.70 557.38,451.49 557.38,447.91" fill="#ff1010"/>
<line x1="605.7" y1="449.7" x2="574.6" y2="449.7" stroke="#ff1010" stroke-width="1.2" /><polygon points="574.60,449.70 578.62,447.91 578.62,451.49" fill="#ff1010"/>
<path d="M561.9,446.3 V455.3 M574,446.3 V455.3" stroke="#ff1010" stroke-width="1.1" stroke-dasharray="3.4,1.6" fill="none"/>
<text transform="translate(464.30 510.25) rotate(-90) scale(0.999 1)" font-size="9.6" text-anchor="middle" fill="#000" font-weight="bold" font-style="normal" >Gray value <tspan font-style="italic">Gy</tspan></text>
<text transform="translate(464.30 541.60) rotate(-90) scale(0.900 1)" font-size="9.6" text-anchor="start" fill="#000" font-weight="bold" font-style="normal" fill-opacity="0.55">Gray value</text>
<text transform="translate(540.20 602.00) scale(0.917 1)" font-size="9.6" text-anchor="start" fill="#000" font-weight="bold" font-style="normal" >Distance (nm)</text>
<text transform="translate(541.60 602.00) scale(0.900 1)" font-size="9.6" text-anchor="start" fill="#000" font-weight="bold" font-style="normal" fill-opacity="0.6">D</text>
<text transform="translate(599.60 602.00) scale(0.900 1)" font-size="9.6" text-anchor="end" fill="#000" font-weight="bold" font-style="normal" fill-opacity="0.6">(nm)</text>
<text transform="translate(456.20 439.30) scale(0.830 1)" font-size="16" text-anchor="start" fill="#000" font-weight="bold" font-style="normal" >g</text>
</svg>
</body></html>
